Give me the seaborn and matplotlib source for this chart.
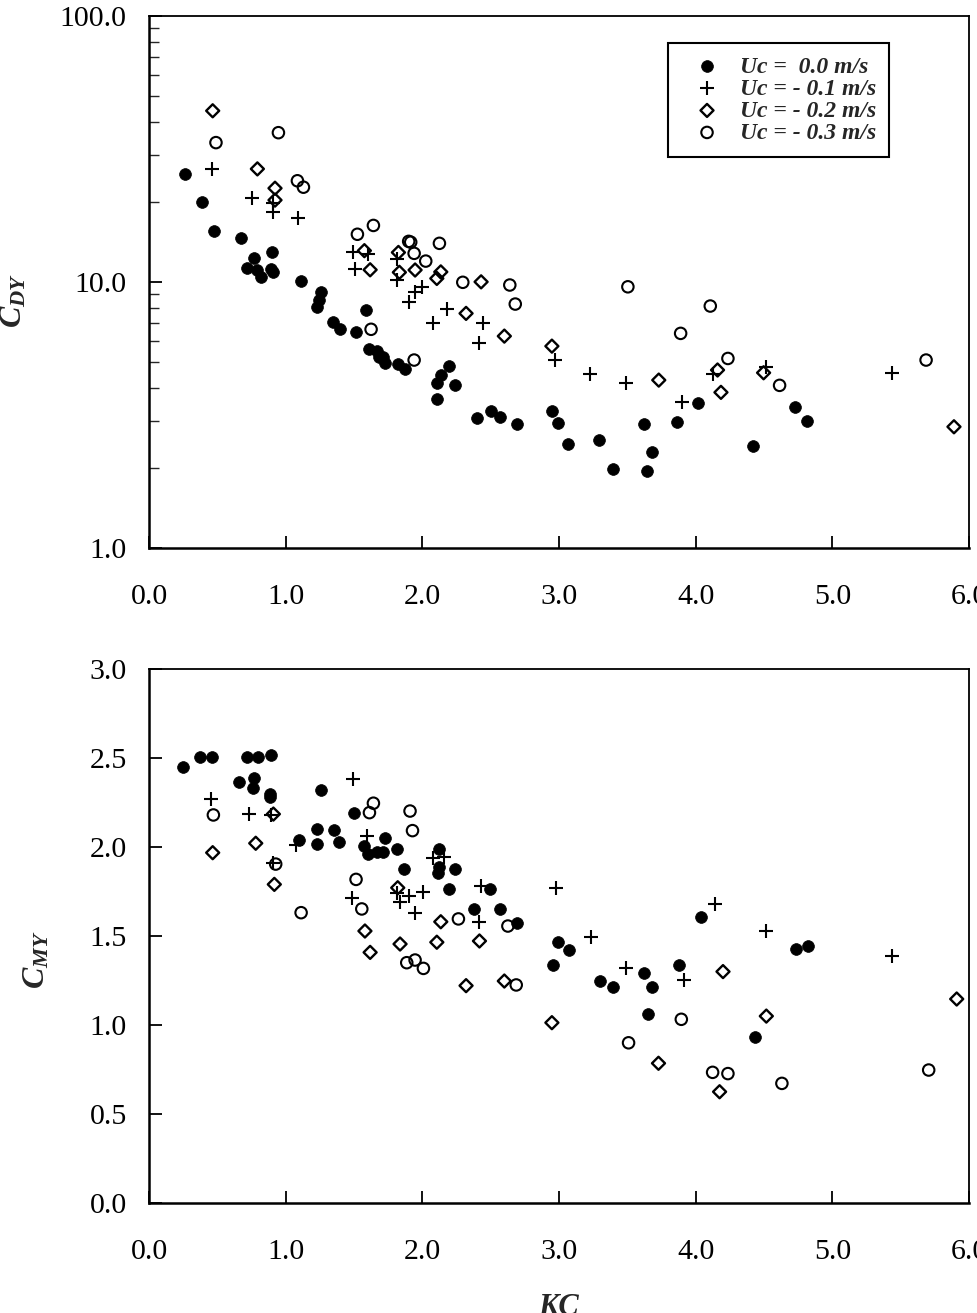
import numpy as np
import pandas as pd
import matplotlib
matplotlib.use("Agg")
import matplotlib.pyplot as plt
import seaborn as sns
from matplotlib.ticker import FixedLocator, FormatStrFormatter, LogLocator, NullFormatter

# ---------------- data ----------------
series_labels = ["Uc =  0.0 m/s", "Uc = - 0.1 m/s", "Uc = - 0.2 m/s", "Uc = - 0.3 m/s"]

# top panel: C_DY
kc_cd_00 = [0.26, 0.39, 0.476, 0.67, 0.77, 0.90, 0.715, 0.79, 0.82, 0.89, 0.91, 1.115, 1.26, 1.245,
            1.228, 1.345, 1.40, 1.515, 1.586, 1.613, 1.67, 1.686, 1.715, 1.728, 1.825, 1.874, 2.11,
            2.14, 2.11, 2.196, 2.24, 2.40, 2.50, 2.57, 2.696, 2.95, 2.994, 3.067, 3.294, 3.395, 3.62,
            3.68, 3.646, 3.863, 4.017, 4.42, 4.73, 4.815]
cd_00 = [25.4, 19.9, 15.6, 14.6, 12.3, 13.0, 11.3, 11.1, 10.45, 11.2, 10.9, 10.07, 9.15, 8.54,
         8.06, 7.08, 6.63, 6.49, 7.83, 5.58, 5.51, 5.2, 5.2, 4.94, 4.9, 4.72, 4.15,
         4.45, 3.62, 4.82, 4.09, 3.07, 3.27, 3.11, 2.92, 3.27, 2.95, 2.45, 2.54, 1.97, 2.92,
         2.29, 1.94, 2.96, 3.51, 2.41, 3.39, 3.0]

kc_cd_01 = [0.464, 0.752, 0.905, 0.905, 1.093, 1.496, 1.508, 1.605, 1.818, 1.818, 1.947, 1.996,
            1.906, 2.077, 2.18, 2.447, 2.418, 2.97, 3.228, 3.487, 3.90, 4.13, 4.517, 5.44]
cd_01 = [26.5, 20.7, 19.85, 18.3, 17.4, 12.9, 11.2, 12.7, 12.2, 10.15, 9.18, 9.53,
         8.41, 7.0, 7.88, 7.0, 5.9, 5.08, 4.49, 4.17, 3.52, 4.49, 4.77, 4.53]

kc_cd_02 = [0.466, 0.793, 0.922, 0.922, 1.576, 1.618, 1.825, 1.832, 1.947, 2.106, 2.135, 2.43,
            2.32, 2.60, 2.948, 3.73, 4.16, 4.185, 4.497, 5.89]
cd_02 = [44.0, 26.6, 22.5, 20.3, 13.1, 11.1, 12.9, 10.86, 11.08, 10.3, 10.9, 10.0,
         7.61, 6.25, 5.73, 4.27, 4.66, 3.84, 4.55, 2.85]

kc_cd_03 = [0.49, 0.947, 1.086, 1.13, 1.525, 1.642, 1.90, 1.915, 2.125, 1.94, 2.025, 2.296,
            2.64, 2.68, 3.504, 1.625, 1.94, 3.89, 4.107, 4.236, 4.614, 5.686]
cd_03 = [33.4, 36.4, 24.0, 22.7, 15.1, 16.3, 14.2, 14.1, 13.96, 12.8, 11.97, 9.96,
         9.73, 8.25, 9.58, 6.63, 5.08, 6.4, 8.11, 5.15, 4.08, 5.08]

# bottom panel: C_MY
kc_cm_00 = [0.246, 0.373, 0.459, 0.715, 0.80, 0.89, 0.659, 0.77, 0.764, 0.886, 0.886, 1.26, 1.50,
            1.098, 1.232, 1.232, 1.35, 1.39, 1.574, 1.60, 1.67, 1.715, 1.728, 1.813, 1.869, 2.125,
            2.125, 2.113, 2.24, 2.198, 2.496, 2.38, 2.57, 2.696, 2.996, 3.07, 2.955, 3.297, 3.395,
            3.619, 3.68, 3.648, 3.88, 4.039, 4.436, 4.734, 4.82]
cm_00 = [2.451, 2.504, 2.504, 2.504, 2.504, 2.517, 2.363, 2.386, 2.33, 2.30, 2.283, 2.32, 2.193,
         2.039, 2.101, 2.015, 2.096, 2.026, 2.006, 1.959, 1.974, 1.974, 2.049, 1.987, 1.875, 1.987,
         1.89, 1.852, 1.875, 1.762, 1.762, 1.652, 1.652, 1.575, 1.465, 1.421, 1.337, 1.249, 1.215,
         1.294, 1.215, 1.062, 1.337, 1.609, 0.934, 1.425, 1.444]

kc_cm_01 = [0.452, 0.732, 0.893, 1.496, 1.594, 0.91, 1.074, 2.08, 2.155, 1.488, 1.813, 1.837,
            1.906, 2.008, 1.947, 2.43, 2.418, 2.977, 3.233, 3.49, 3.916, 4.143, 4.517, 5.44]
cm_01 = [2.27, 2.184, 2.18, 2.38, 2.062, 1.912, 2.011, 1.937, 1.946, 1.712, 1.74, 1.689,
         1.725, 1.746, 1.628, 1.781, 1.577, 1.768, 1.493, 1.318, 1.253, 1.68, 1.528, 1.388]

kc_cm_02 = [0.466, 0.781, 0.91, 0.917, 1.58, 1.618, 1.82, 1.837, 2.106, 2.135, 2.418, 2.32,
            2.60, 2.948, 3.728, 4.20, 4.175, 4.517, 5.91]
cm_02 = [1.968, 2.021, 2.185, 1.79, 1.528, 1.408, 1.771, 1.455, 1.465, 1.58, 1.472, 1.221,
         1.247, 1.013, 0.785, 1.30, 0.625, 1.05, 1.146]

kc_cm_03 = [0.471, 1.642, 1.613, 1.91, 1.928, 0.927, 1.515, 1.557, 1.113, 1.886, 1.947, 2.008,
            2.264, 2.626, 2.687, 3.509, 3.895, 4.124, 4.236, 4.631, 5.705]
cm_03 = [2.18, 2.246, 2.193, 2.202, 2.092, 1.904, 1.818, 1.652, 1.631, 1.35, 1.365, 1.318,
         1.596, 1.556, 1.225, 0.90, 1.032, 0.734, 0.727, 0.672, 0.747]

x_ticks = [0.0, 1.0, 2.0, 3.0, 4.0, 5.0, 6.0]
cd_ticks = [1.0, 10.0, 100.0]
cm_ticks = [0.0, 0.5, 1.0, 1.5, 2.0, 2.5, 3.0]

# ---------------- style ----------------
sns.set_style("ticks")
plt.rcParams['font.family'] = ['Liberation Serif', 'DejaVu Serif']
plt.rcParams['mathtext.fontset'] = 'custom'
plt.rcParams['mathtext.rm'] = 'Liberation Serif'
plt.rcParams['mathtext.it'] = 'Liberation Serif:italic'
plt.rcParams['mathtext.bf'] = 'Liberation Serif:bold'
plt.rcParams['mathtext.bfit'] = 'Liberation Serif:italic:bold'

marker_styles = [
    dict(marker='o', s=72, color='black', edgecolor='black', linewidth=0.5),
    dict(marker='+', s=100, color='black', linewidth=1.5),
    dict(marker='D', s=44, color='black', facecolor='none', edgecolor='black', linewidth=1.7),
    dict(marker='o', s=68, color='black', facecolor='none', edgecolor='black', linewidth=1.5),
]

top_sets = [(kc_cd_00, cd_00), (kc_cd_01, cd_01), (kc_cd_02, cd_02), (kc_cd_03, cd_03)]
bot_sets = [(kc_cm_00, cm_00), (kc_cm_01, cm_01), (kc_cm_02, cm_02), (kc_cm_03, cm_03)]

W, H = 977, 1313
fig = plt.figure(figsize=(W / 100, H / 100), dpi=100)
ax1 = fig.add_axes([149 / W, 1 - 547.7 / H, 820 / W, 531.7 / H])
ax2 = fig.add_axes([149 / W, 1 - 1203 / H, 820 / W, 534 / H])

for (kc, val), lab, st in zip(top_sets, series_labels, marker_styles):
    df = pd.DataFrame({"KC": kc, "val": val})
    sns.scatterplot(data=df, x="KC", y="val", ax=ax1, label=lab, legend=False, **st)

for (kc, val), lab, st in zip(bot_sets, series_labels, marker_styles):
    df = pd.DataFrame({"KC": kc, "val": val})
    sns.scatterplot(data=df, x="KC", y="val", ax=ax2, legend=False, **st)

# top axis
ax1.set_yscale('log')
ax1.set_xlim(0, 6)
ax1.set_ylim(1, 100)
ax1.yaxis.set_major_locator(FixedLocator(cd_ticks))
ax1.yaxis.set_major_formatter(FormatStrFormatter('%.1f'))
ax1.yaxis.set_minor_locator(LogLocator(base=10, subs=np.arange(2, 10)))
ax1.yaxis.set_minor_formatter(NullFormatter())

# bottom axis
ax2.set_xlim(0, 6)
ax2.set_ylim(0, 3)
ax2.yaxis.set_major_locator(FixedLocator(cm_ticks))
ax2.yaxis.set_major_formatter(FormatStrFormatter('%.1f'))

for ax in (ax1, ax2):
    ax.xaxis.set_major_locator(FixedLocator(x_ticks))
    ax.xaxis.set_major_formatter(FormatStrFormatter('%.1f'))
    ax.set_xlabel("")
    ax.set_ylabel("")
    ax.tick_params(axis='both', which='major', direction='in', length=9, width=1.3,
                   labelsize=21.5, top=False, right=False, color='black', labelcolor='black')
    ax.tick_params(axis='both', which='minor', direction='in', length=7, width=1.0,
                   top=False, right=False)
    ax.tick_params(axis='x', which='minor', bottom=False)
    ax.tick_params(axis='x', pad=26)
    ax.tick_params(axis='y', pad=16)
    for side in ('left', 'bottom'):
        ax.spines[side].set_linewidth(1.8)
        ax.spines[side].set_color('black')
    for side in ('top', 'right'):
        ax.spines[side].set_visible(True)
        ax.spines[side].set_linewidth(1.3)
        ax.spines[side].set_color('black')
    ax.grid(False)

leg = ax1.legend(loc='upper left', bbox_to_anchor=(0.633, 0.949), borderaxespad=0,
                 prop=dict(family='Liberation Serif', style='italic', weight='bold', size=17),
                 frameon=True, fancybox=False, edgecolor='black', framealpha=1,
                 handlelength=2.2, handletextpad=0.3, borderpad=0.55, labelspacing=0.02)
leg.get_frame().set_linewidth(1.5)

fig.text(14 / W, 1 - 300 / H, r'$\mathbfit{C}_{\mathbfit{DY}}$', rotation=90,
         ha='center', va='center', fontsize=23)
fig.text(37 / W, 1 - 960 / H, r'$\mathbfit{C}_{\mathbfit{MY}}$', rotation=90,
         ha='center', va='center', fontsize=23)
fig.text(559 / W, 1 - 1315 / H, 'KC', ha='center', va='baseline', fontsize=22,
         fontstyle='italic', fontweight='bold')

fig.savefig("out.png", dpi=100)
